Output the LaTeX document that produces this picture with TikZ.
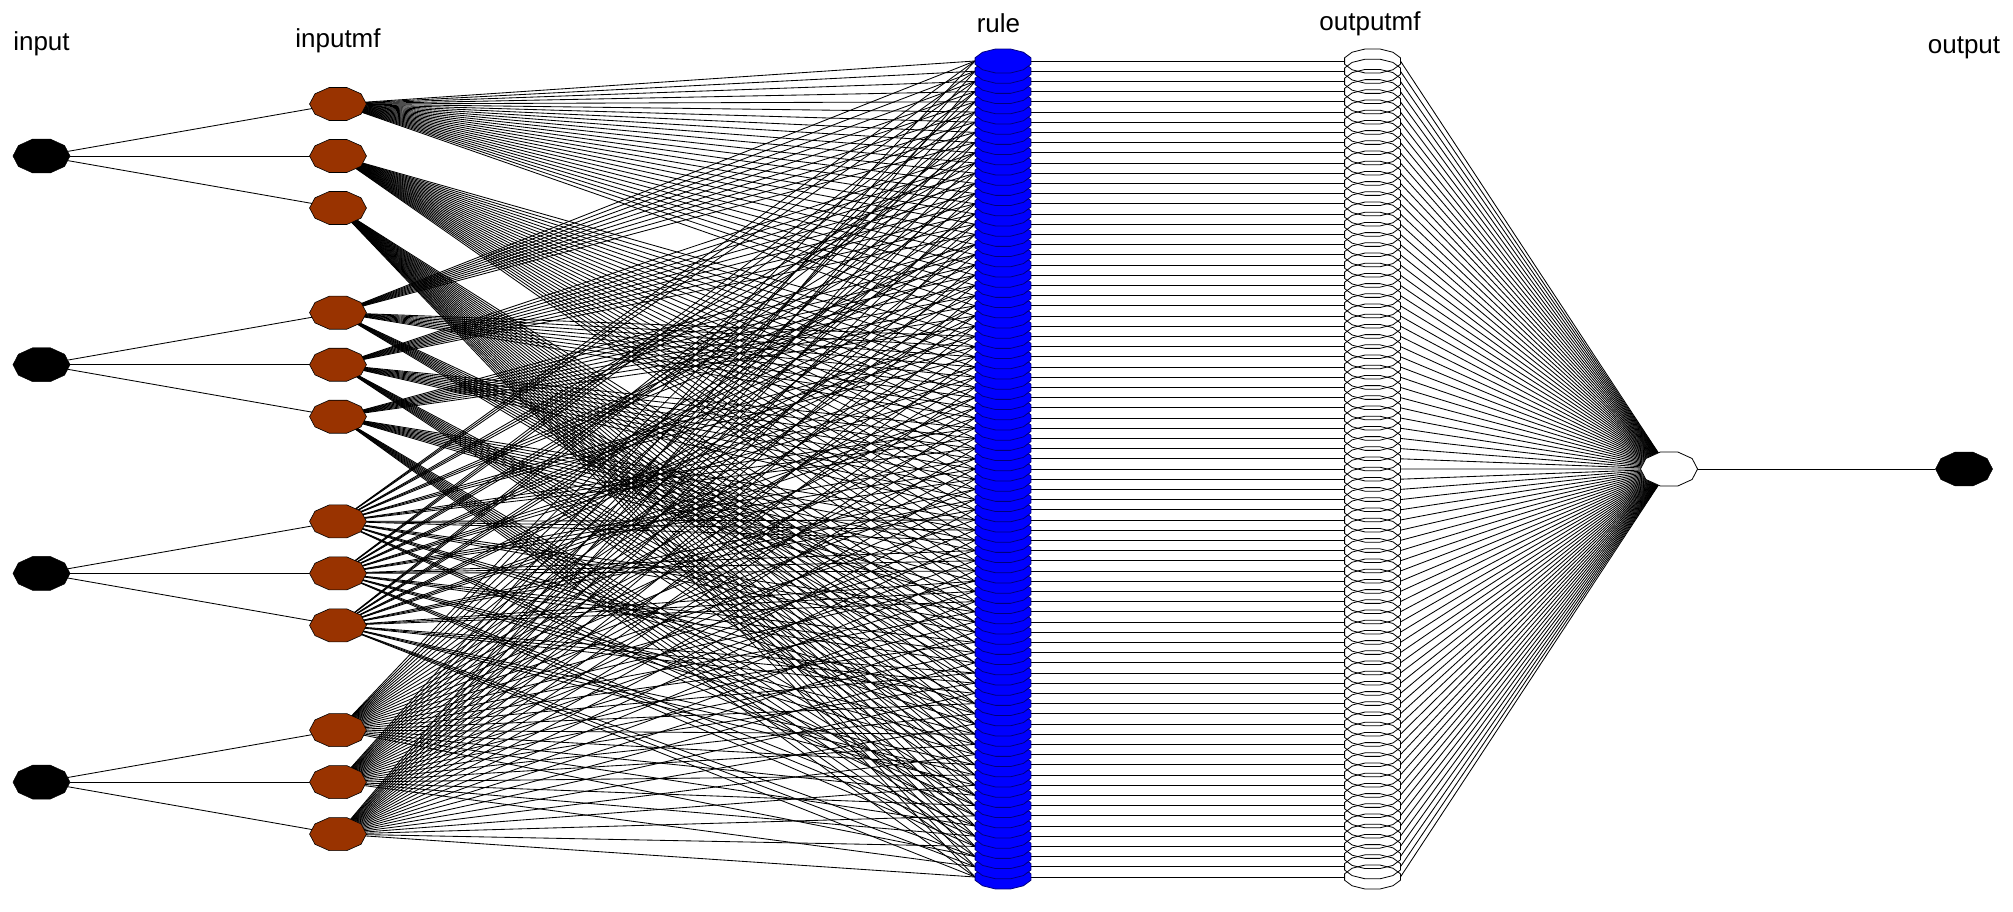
\documentclass[tikz,border=0pt]{standalone}
\usepackage{fontspec}
\setmainfont{Liberation Sans}
\usetikzlibrary{shapes.geometric,backgrounds}
\definecolor{mfbrown}{RGB}{153,51,0}
\definecolor{ruleblue}{RGB}{0,0,255}
\definecolor{ruleedge}{RGB}{0,0,125}
\begin{document}
\begin{tikzpicture}[x=1pt,y=-1pt,
  conn/.style={line width=0.85pt, black},
  dec/.style={regular polygon, regular polygon sides=10, inner sep=0pt, outer sep=0pt},
  innode/.style={dec, minimum size=35.7pt, xscale=1.6, fill=black, draw=black, line width=0.4pt},
  mfnode/.style={dec, minimum size=34.7pt, xscale=1.64, fill=mfbrown, draw=black, line width=0.6pt},
  sumnode/.style={dec, minimum size=35.7pt, xscale=1.6, fill=white, draw=black, line width=0.8pt},
  colnode/.style={regular polygon, regular polygon sides=12, inner sep=0pt, outer sep=0pt, minimum size=24.8pt, xscale=2.33},
  rulenode/.style={colnode, fill=ruleblue, draw=ruleedge, line width=0.8pt},
  omfnode/.style={colnode, draw=black, line width=0.8pt},
  lab/.style={font=\fontsize{26}{30}\selectfont, anchor=base}
]
\useasboundingbox (0,0) rectangle (2013,912);
% labels
\node[lab] (tin) at (41.5,51) {input};
\node[lab] (tmf) at (338,48) {inputmf};
\node[lab] (trule) at (998.5,33) {rule};
\node[lab] (tomf) at (1370,31) {outputmf};
\node[lab] (tout) at (1964,54) {output};
% input and input mf nodes
\foreach \g in {0,...,3} {
  \node[innode] (in\g) at (41.5,156+208.7*\g) {};
  \foreach \m in {0,1,2}
    \node[mfnode] (mf\g\m) at (338,156+208.7*\g+52*\m-52) {};
}
% rule nodes (drawn bottom to top)
\foreach \k in {80,79,...,0}
  \node[rulenode] (r\k) at (1003,61+10.2*\k) {};
% output mf nodes
\foreach \k in {0,...,80}
  \node[omfnode] (o\k) at (1372.5,61+10.2*\k) {};
% sum and output
\node[sumnode] (sum) at (1669,469) {};
\node[innode] (out) at (1964,469) {};
% connections
\begin{pgfonlayer}{background}
  \foreach \g in {0,...,3}
    \foreach \m in {0,1,2}
      \draw[conn] (in\g) -- (mf\g\m);
  \foreach \k in {0,...,80} {
    \pgfmathtruncatemacro\ia{int(\k/27)}
    \pgfmathtruncatemacro\ib{mod(int(\k/9),3)}
    \pgfmathtruncatemacro\ic{mod(int(\k/3),3)}
    \pgfmathtruncatemacro\id{mod(\k,3)}
    \draw[conn] (mf0\ia) -- (r\k.west);
    \draw[conn] (mf1\ib) -- (r\k.west);
    \draw[conn] (mf2\ic) -- (r\k.west);
    \draw[conn] (mf3\id) -- (r\k.west);
    \draw[conn] (r\k.east) -- (o\k.west);
    \draw[conn] (o\k.east) -- (sum);
  }
  \draw[conn] (sum) -- (out);
\end{pgfonlayer}
\end{tikzpicture}
\end{document}
